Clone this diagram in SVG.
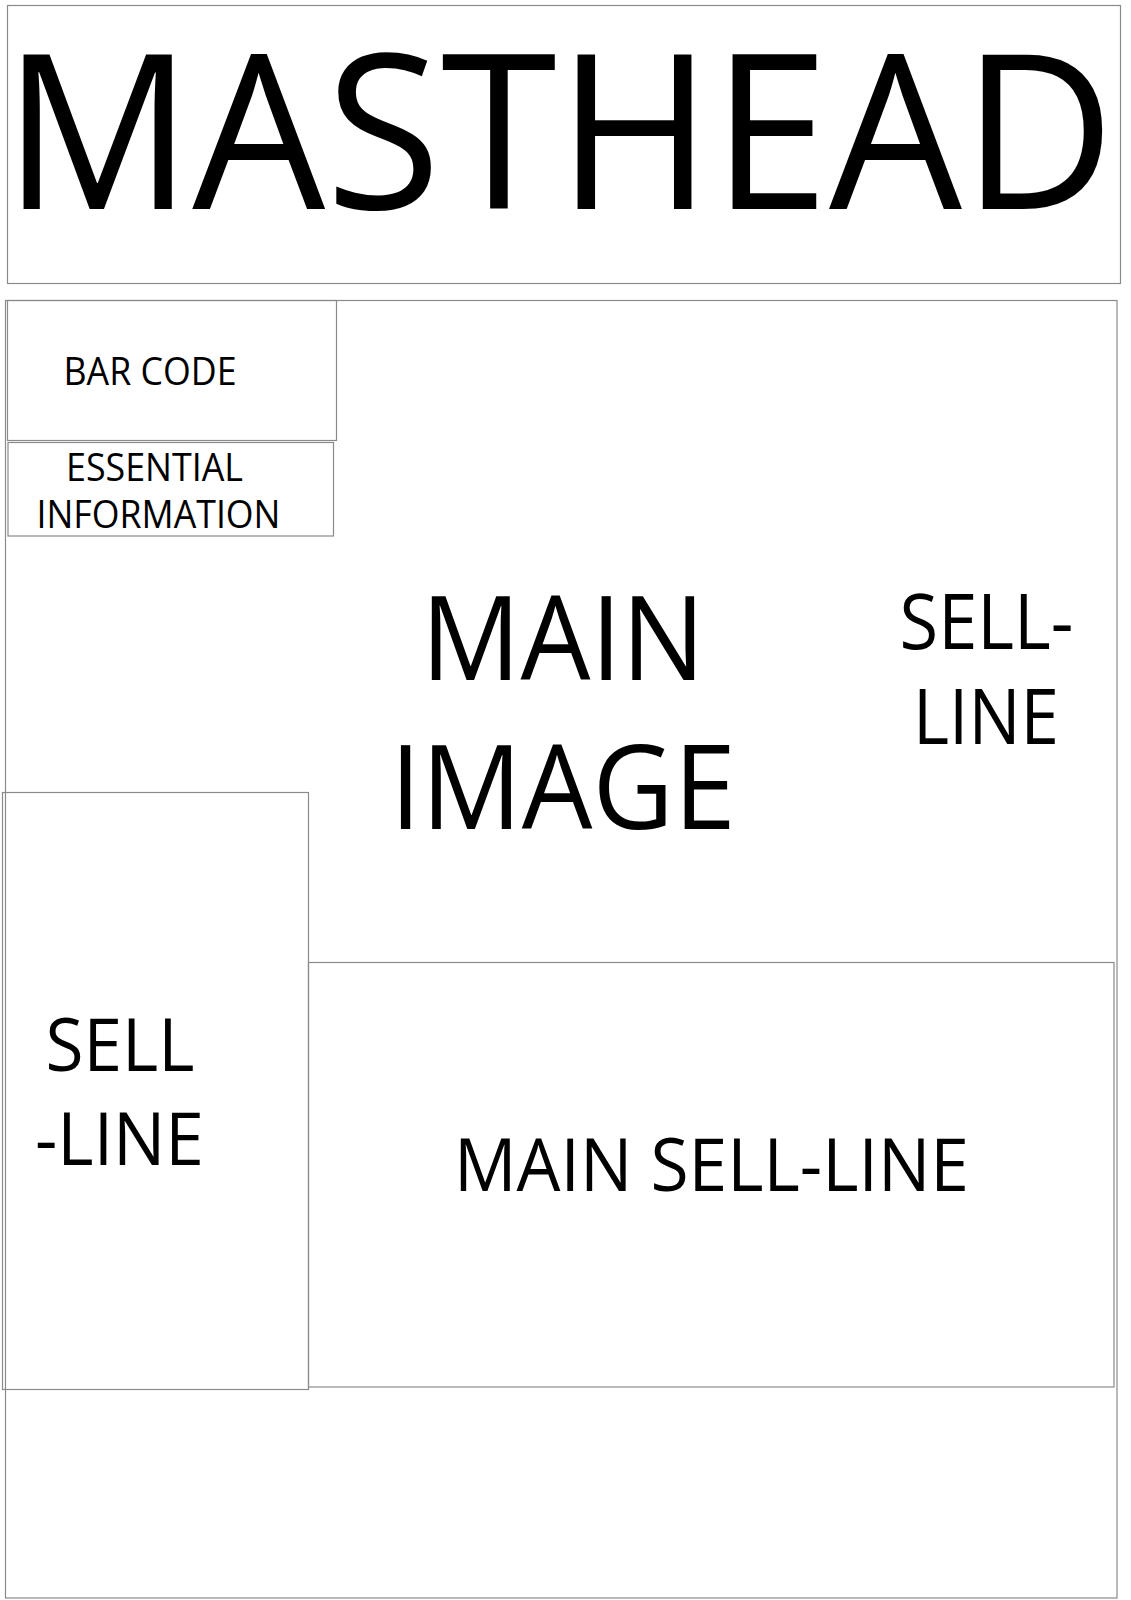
<svg xmlns="http://www.w3.org/2000/svg" width="1131" height="1600" viewBox="0 0 1131 1600">
<style>
.box{fill:none;stroke:#8a8a8a;stroke-width:1.2}
.t{font-family:"Open Sans","Noto Sans","Liberation Sans",sans-serif;fill:#000}
</style>
<rect x="0" y="0" width="1131" height="1600" fill="#fff"/>
<g id="masthead">
<rect class="box" x="7.5" y="5.5" width="1113" height="278"/>
<text class="t" x="3" y="209" font-size="216" textLength="1112" lengthAdjust="spacingAndGlyphs">MASTHEAD</text>
</g>
<g id="page">
<rect class="box" x="5.5" y="300.5" width="1111.5" height="1297.5"/>
</g>
<g id="main-image">
<text class="t" x="421" y="680" font-size="117" textLength="284" lengthAdjust="spacingAndGlyphs">MAIN</text>
<text class="t" x="390" y="829" font-size="117" textLength="346" lengthAdjust="spacingAndGlyphs">IMAGE</text>
</g>
<g id="bar-code">
<rect class="box" x="7.5" y="300.5" width="329" height="140"/>
<text class="t" x="63.5" y="385" font-size="39" textLength="173" lengthAdjust="spacingAndGlyphs">BAR CODE</text>
</g>
<g id="essential-information">
<rect class="box" x="8" y="442.5" width="325.5" height="93.5"/>
<text class="t" x="66" y="480.5" font-size="39" textLength="177" lengthAdjust="spacingAndGlyphs">ESSENTIAL</text>
<text class="t" x="36.5" y="527.5" font-size="39" textLength="244" lengthAdjust="spacingAndGlyphs">INFORMATION</text>
</g>
<g id="sell-line-right">
<text class="t" x="899.5" y="649" font-size="77" textLength="174" lengthAdjust="spacingAndGlyphs">SELL-</text>
<text class="t" x="913" y="744" font-size="77" textLength="146" lengthAdjust="spacingAndGlyphs">LINE</text>
</g>
<g id="sell-line-left">
<rect class="box" x="2.5" y="792.5" width="306" height="597"/>
<text class="t" x="45.5" y="1071" font-size="74" textLength="149" lengthAdjust="spacingAndGlyphs">SELL</text>
<text class="t" x="35" y="1165" font-size="74" textLength="169" lengthAdjust="spacingAndGlyphs">-LINE</text>
</g>
<g id="main-sell-line">
<rect class="box" x="308.5" y="962.5" width="805.5" height="424.5"/>
<text class="t" x="454" y="1191" font-size="74" textLength="515" lengthAdjust="spacingAndGlyphs">MAIN SELL-LINE</text>
</g>
<g id="connectors"></g>
</svg>
